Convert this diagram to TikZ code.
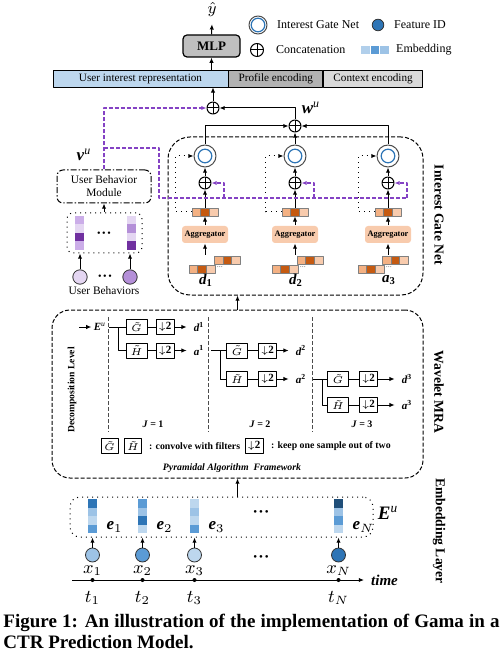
\documentclass[tikz,border=0pt]{standalone}
\usepackage{fontspec}
\setmainfont{Liberation Serif}
\usetikzlibrary{arrows.meta}
\definecolor{bluA}{HTML}{BDD7EE}
\definecolor{bluB}{HTML}{9DC3E6}
\definecolor{bluC}{HTML}{5B9BD5}
\definecolor{bluD}{HTML}{2E75B6}
\definecolor{bluE}{HTML}{1F4E79}
\definecolor{orA}{HTML}{F4B183}
\definecolor{orB}{HTML}{C55A11}
\definecolor{orC}{HTML}{F8CBAD}
\definecolor{purA}{HTML}{E4D6F2}
\definecolor{purB}{HTML}{B48FD8}
\definecolor{purC}{HTML}{7030A0}
\definecolor{purD}{HTML}{CBADE8}
\definecolor{purL}{HTML}{8442C4}
\newcommand{\bv}[1]{\textbf{\textit{#1}}}
\newcommand{\fsz}[1]{\fontsize{#1}{#1}\selectfont}
\tikzset{
  concat/.style={circle,draw,line width=0.5pt,minimum size=6pt,inner sep=0pt,
    path picture={\draw[line width=0.5pt] (path picture bounding box.north)--(path picture bounding box.south)
      (path picture bounding box.west)--(path picture bounding box.east);}},
  gate/.style={circle,draw=black!70,line width=0.5pt,fill=white,minimum size=11pt,inner sep=0pt,
    path picture={\draw[bluD,line width=0.6pt] (path picture bounding box.center) circle (3.4pt);}},
  featid/.style={circle,draw=black!80,line width=0.4pt,minimum size=7pt,inner sep=0pt},
  ocell/.style={draw=gray,line width=0.4pt,minimum width=4.35pt,minimum height=4pt,inner sep=0pt},
  bcell/.style={minimum width=4.5pt,minimum height=4.25pt,inner sep=0pt},
  barcell/.style={draw,line width=0.4pt,minimum height=8.5pt,inner sep=0pt,font=\fsz{5.6}},
  aggbox/.style={fill=orC,rounded corners=1.5pt,minimum width=23pt,minimum height=8.5pt,inner sep=0pt,font=\fsz{4.2}\bfseries},
  filt/.style={draw,line width=0.5pt,minimum width=10.5pt,minimum height=7.5pt,inner sep=0pt,font=\fsz{5}\bfseries},
  downs/.style={draw,line width=0.5pt,minimum width=9pt,minimum height=7.5pt,inner sep=0pt,font=\fsz{5.5}\bfseries},
  sidelab/.style={rotate=-90,font=\fsz{6.8}\bfseries},
  purdash/.style={draw=purL,dash pattern=on 2pt off 1pt,line width=0.6pt},
  dotline/.style={dotted,line width=0.5pt},
  sepline/.style={dash pattern=on 2pt off 1pt,line width=0.5pt,black!70},
  dashbox/.style={draw,dash pattern=on 2pt off 1pt,line width=0.5pt},
}
\begin{document}
\begin{tikzpicture}[x=0.5pt,y=-0.5pt,line join=round,line width=0.5pt,>={Latex[length=2.6pt,width=2.2pt]},font=\fsz{6}]
\useasboundingbox (0,0) rectangle (502,657);
% output and representation
\node[font=\fsz{8}] (yhat) at (212,10) {$\hat{y}$};
\node[draw,fill=black!25,rounded corners=2pt,line width=0.6pt,minimum width=28.5pt,minimum height=11pt,inner sep=0pt,font=\fsz{6.5}\bfseries] (mlp) at (211.5,46) {MLP};
\node[barcell,fill=bluA,minimum width=87.5pt] (rep) at (140.5,78.5) {User interest representation};
\node[barcell,fill=black!30,minimum width=47pt,anchor=west] (prof) at (rep.east) {Profile encoding};
\node[barcell,fill=black!15,minimum width=49.5pt,anchor=west] (ctx) at (prof.east) {Context encoding};
\draw[->] (mlp.north) -- (yhat.south);
\draw[->] (rep.north -| mlp.south) -- (mlp.south);
% legend
\node[gate,minimum size=9pt] (lgGate) at (258,25) {};
\node[anchor=west] (lgGateT) at (270,25) {Interest Gate Net};
\node[featid,fill=bluD,minimum size=5.8pt] (lgFeat) at (378,25) {};
\node[anchor=west] (lgFeatT) at (387,25) {Feature ID};
\node[concat,minimum size=6.5pt] (lgCat) at (257,50) {};
\node[anchor=west] (lgCatT) at (269,50) {Concatenation};
\node[bcell,fill=bluB!80,minimum width=4.35pt,minimum height=4pt] (lgE1) at (365.3,50) {};
\node[bcell,fill=bluC,minimum width=4.35pt,minimum height=4pt,anchor=west] (lgE2) at (lgE1.east) {};
\node[bcell,fill=bluB,minimum width=4.35pt,minimum height=4pt,anchor=west] (lgE3) at (lgE2.east) {};
\node[anchor=west] (lgEmbT) at (389,50) {Embedding};
% interest gate net
\node[dashbox,rounded corners=11pt,minimum width=127.5pt,minimum height=79pt] (igBox) at (295.5,216) {};
\node[sidelab] (igLab) at (439,215) {Interest Gate Net};
\foreach \i/\cx/\ua/\la/\lab in {1/205/22.5/-3/{\bv{d}$_{\mathbf{1}}$},2/295/15/-10/{\bv{d}$_{\mathbf{2}}$},3/388/7.5/-17/{\bv{a}$_{\mathbf{3}}$}}{
  \node[gate] (g\i) at (\cx,156) {};
  \node[concat] (c\i) at (\cx,183) {};
  \node[ocell,fill=orA] (s\i-a) at (\cx-8.7,212) {};
  \node[ocell,fill=orB] (s\i-b) at (\cx,212) {};
  \node[ocell,fill=orC] (s\i-c) at (\cx+8.7,212) {};
  \node[aggbox] (ag\i) at (\cx,234.5) {Aggregator};
  \node[ocell,fill=orA] (u\i-a) at ({\cx+(\ua)-8.7},260.5) {};
  \node[ocell,fill=orB] (u\i-b) at ({\cx+(\ua)},260.5) {};
  \node[ocell,fill=orC] (u\i-c) at ({\cx+(\ua)+8.7},260.5) {};
  \node[ocell,fill=orA] (l\i-a) at ({\cx+(\la)-8.7},269) {};
  \node[ocell,fill=orB] (l\i-b) at ({\cx+(\la)},269) {};
  \node[ocell,fill=orC] (l\i-c) at ({\cx+(\la)+8.7},269) {};
  \node[anchor=south west,inner sep=0.4pt,font=\fsz{4},text=black!60] (dt\i) at (l\i-c.east) {...};
  \coordinate (in\i) at (\cx,255);
  \draw[->] (in\i) -- (ag\i.south);
  \draw[->] (ag\i.north) -- (s\i-b.south);
  \draw[->] (s\i-b.north) -- (c\i.south);
  \draw[->] (c\i.north) -- (g\i.south);
  \draw[dotline,->] (s\i-a.west) -- ++(-16,0) |- (g\i.west);
  \node[font=\fsz{7.5}] (lab\i) at (\cx+1,280) {\lab};
  \coordinate (pb\i) at (\cx+19,198);
  \draw[purdash,->] (pb\i) |- (c\i.east);
}
\node[concat] (cW) at (295,126) {};
\node[font=\fsz{8.5}] (wLab) at (311,108) {\bv{w}\textsuperscript{\textit{u}}};
\draw[->] (g1.north) |- (cW.west);
\draw[->] (g2.north) -- (cW.south);
\draw[->] (g3.north) |- (cW.east);
\node[concat] (cTop) at (213,108) {};
\draw[->] (cTop.north) -- (cTop.north |- rep.south);
\draw[->] (cW.north) |- (cTop.east);
% user behaviors
\node[draw,dash pattern=on 3pt off 1pt on 0.7pt off 1pt,rounded corners=3pt,minimum width=47pt,minimum height=16.5pt,align=center,font=\fontsize{5.7}{6.6}\selectfont,inner sep=0pt] (ubm) at (104,186.5) {User Behavior\\Module};
\node[draw,dotted,rounded corners=3pt,minimum width=37.5pt,minimum height=20pt] (ubBox) at (104.5,233) {};
\foreach \k/\cl/\cr in {1/purD/purA,2/purA/purB,3/purC/purA,4/purD/purC}{
  \node[bcell,fill=\cl] (pl\k) at (79.5,211.75+8.5*\k) {};
  \node[bcell,fill=\cr] (pr\k) at (131,211.75+8.5*\k) {};
}
\node[font=\fsz{5}] (ubDots) at (104,234) {\textbullet\,\textbullet\,\textbullet};
\node[featid,fill=purA,minimum size=7.2pt] (ub1) at (80,277) {};
\node[featid,fill=purB,minimum size=7.2pt] (ub2) at (130,277) {};
\node[font=\fsz{5}] (ubDots2) at (105,277) {\textbullet\,\textbullet\,\textbullet};
\node[font=\fsz{5.7}] (ubLab) at (104,291) {User Behaviors};
\draw[->] (ub1.north) -- (ub1.north |- ubBox.south);
\draw[->] (ub2.north) -- (ub2.north |- ubBox.south);
\draw[->] (ubBox.north -| ubm.south) -- (ubm.south);
\node[font=\fsz{8.5}] (vLab) at (84,155) {\bv{v}\textsuperscript{\textit{u}}};
\draw[purdash,->] (ubm.north) |- (cTop.west);
\coordinate (vSplit) at (104,148);
\coordinate (pbBend) at (159,198);
\draw[purdash] (vSplit) -| (pbBend) -- (pb3);
% wavelet MRA
\node[dashbox,rounded corners=9pt,minimum width=185.5pt,minimum height=84pt] (wvBox) at (237.5,394) {};
\node[sidelab] (wvLab) at (439,392) {Wavelet MRA};
\draw[->] (wvBox.north) -- (wvBox.north |- igBox.south);
\node[rotate=90,font=\fsz{4.8}\bfseries] (decLab) at (72,390) {Decomposition Level};
\draw[sepline] (108,317) -- (108,432);
\draw[sepline] (208,317) -- (208,432);
\draw[sepline] (312,317) -- (312,432);
\coordinate (euIn) at (79,327);
\node[font=\fsz{5.5},inner sep=1pt] (eu0) at (100,327) {\bv{E}\textsuperscript{\textit{u}}};
\draw[->] (euIn) -- (eu0.west);
\node[filt] (G1) at (136.5,327) {$\tilde{G}$};
\node[downs] (D1g) at (165,327) {$\downarrow$2};
\node[font=\fsz{5.5}] (d1l) at (199,327) {\bv{d}\textsuperscript{\textbf{1}}};
\node[filt] (H1) at (136.5,350.5) {$\tilde{H}$};
\node[downs] (D1h) at (165,350.5) {$\downarrow$2};
\node[font=\fsz{5.5}] (a1l) at (199,350.5) {\bv{a}\textsuperscript{\textbf{1}}};
\coordinate (br1) at (118,327);
\draw (eu0.east) -- (G1.west);
\draw (br1) |- (H1.west);
\draw (G1.east) -- (D1g.west);
\draw (H1.east) -- (D1h.west);
\draw[->] (D1g.east) -- (d1l.west);
\draw[->] (D1h.east) -- (a1l.west);
\node[filt] (G2) at (237,350.5) {$\tilde{G}$};
\node[downs] (D2g) at (267.5,350.5) {$\downarrow$2};
\node[font=\fsz{5.5}] (d2l) at (301,350.5) {\bv{d}\textsuperscript{\textbf{2}}};
\node[filt] (H2) at (237,379) {$\tilde{H}$};
\node[downs] (D2h) at (267.5,379) {$\downarrow$2};
\node[font=\fsz{5.5}] (a2l) at (301,379) {\bv{a}\textsuperscript{\textbf{2}}};
\coordinate (br2) at (220,350.5);
\draw (a1l.east) -- (G2.west);
\draw (br2) |- (H2.west);
\draw (G2.east) -- (D2g.west);
\draw (H2.east) -- (D2h.west);
\draw[->] (D2g.east) -- (d2l.west);
\draw[->] (D2h.east) -- (a2l.west);
\node[filt] (G3) at (338,379) {$\tilde{G}$};
\node[downs] (D3g) at (368.5,379) {$\downarrow$2};
\node[font=\fsz{5.5}] (d3l) at (407,379) {\bv{d}\textsuperscript{\textbf{3}}};
\node[filt] (H3) at (338,405) {$\tilde{H}$};
\node[downs] (D3h) at (368.5,405) {$\downarrow$2};
\node[font=\fsz{5.5}] (a3l) at (407,405) {\bv{a}\textsuperscript{\textbf{3}}};
\coordinate (br3) at (322,379);
\draw (a2l.east) -- (G3.west);
\draw (br3) |- (H3.west);
\draw (G3.east) -- (D3g.west);
\draw (H3.east) -- (D3h.west);
\draw[->] (D3g.east) -- (d3l.west);
\draw[->] (D3h.east) -- (a3l.west);
\node[font=\fsz{5}] (J1) at (153,424) {\bv{J} \textbf{= 1}};
\node[font=\fsz{5}] (J2) at (260,424) {\bv{J} \textbf{= 2}};
\node[font=\fsz{5}] (J3) at (362,424) {\bv{J} \textbf{= 3}};
\node[filt,minimum width=8.5pt] (lgG) at (109.5,446) {$\tilde{G}$};
\node[filt,minimum width=8.5pt] (lgH) at (133,446) {$\tilde{H}$};
\node[anchor=west,font=\fsz{4.9}\bfseries] (lgFiltT) at (142,446) {: convolve with filters};
\node[downs] (lgD) at (254,446) {$\downarrow$2};
\node[anchor=west,font=\fsz{4.9}\bfseries] (lgDT) at (264,446) {: keep one sample out of two};
\node[font=\fsz{4.9}\bfseries\itshape] (pyrLab) at (232,468) {Pyramidal Algorithm~~Framework};
% embedding layer
\node[draw,dotted,rounded corners=5pt,minimum width=151.5pt,minimum height=20pt] (emBox) at (221.5,517) {};
\node[sidelab] (emLab) at (439,531) {Embedding Layer};
\draw[->] (emBox.north -| wvBox.south) -- (wvBox.south);
\coordinate (tS) at (72,580);
\node[font=\fsz{7.5}\bfseries\itshape,anchor=west] (timeL) at (364,580) {time};
\draw[->] (tS) -- (timeL.west);
\foreach \j/\ex/\ca/\cb/\cc/\cd/\fc/\sub in {1/92.5/bluD/bluB/bluA/bluC/bluB/1,2/142.5/bluC/bluB/bluD/bluA/bluC/2,3/194.5/bluA/bluB/bluA/bluC/bluA/3,4/338.5/bluE/bluB/bluC/bluA/bluD/N}{
  \node[bcell,fill=\ca] (e\j-1) at (\ex,503.25) {};
  \node[bcell,fill=\cb] (e\j-2) at (\ex,511.75) {};
  \node[bcell,fill=\cc] (e\j-3) at (\ex,520.25) {};
  \node[bcell,fill=\cd] (e\j-4) at (\ex,528.75) {};
  \node[font=\fsz{8.5},anchor=west] (el\j) at (\ex+7,527) {\bv{e}$_{\sub}$};
  \node[featid,fill=\fc] (f\j) at (\ex,555) {};
  \draw[->] (f\j.north) -- (f\j.north |- emBox.south);
  \node[font=\fsz{9}] (xl\j) at (\ex,571) {$x_{\sub}$};
  \node[circle,fill,inner sep=0pt,minimum size=2pt] (tk\j) at (\ex,580) {};
  \node[font=\fsz{9}] (tl\j) at (\ex,598) {$t_{\sub}$};
}
\node[font=\fsz{9.5}] (euLab) at (388,513) {\bv{E}\textsuperscript{\textit{u}}};
\node[font=\fsz{5.5}] (emDots) at (261,513) {\textbullet\,\textbullet\,\textbullet};
\node[font=\fsz{5.5}] (fDots) at (261,558) {\textbullet\,\textbullet\,\textbullet};
% caption
\node[anchor=base west,inner sep=0pt,font=\fsz{9.5}\bfseries] (cap1) at (3,627) {\makebox[248pt][s]{Figure 1: An illustration of the implementation of Gama in a}};
\node[anchor=base west,inner sep=0pt,font=\fsz{9.5}\bfseries] (cap2) at (3,648) {CTR Prediction Model.};
\end{tikzpicture}
\end{document}
